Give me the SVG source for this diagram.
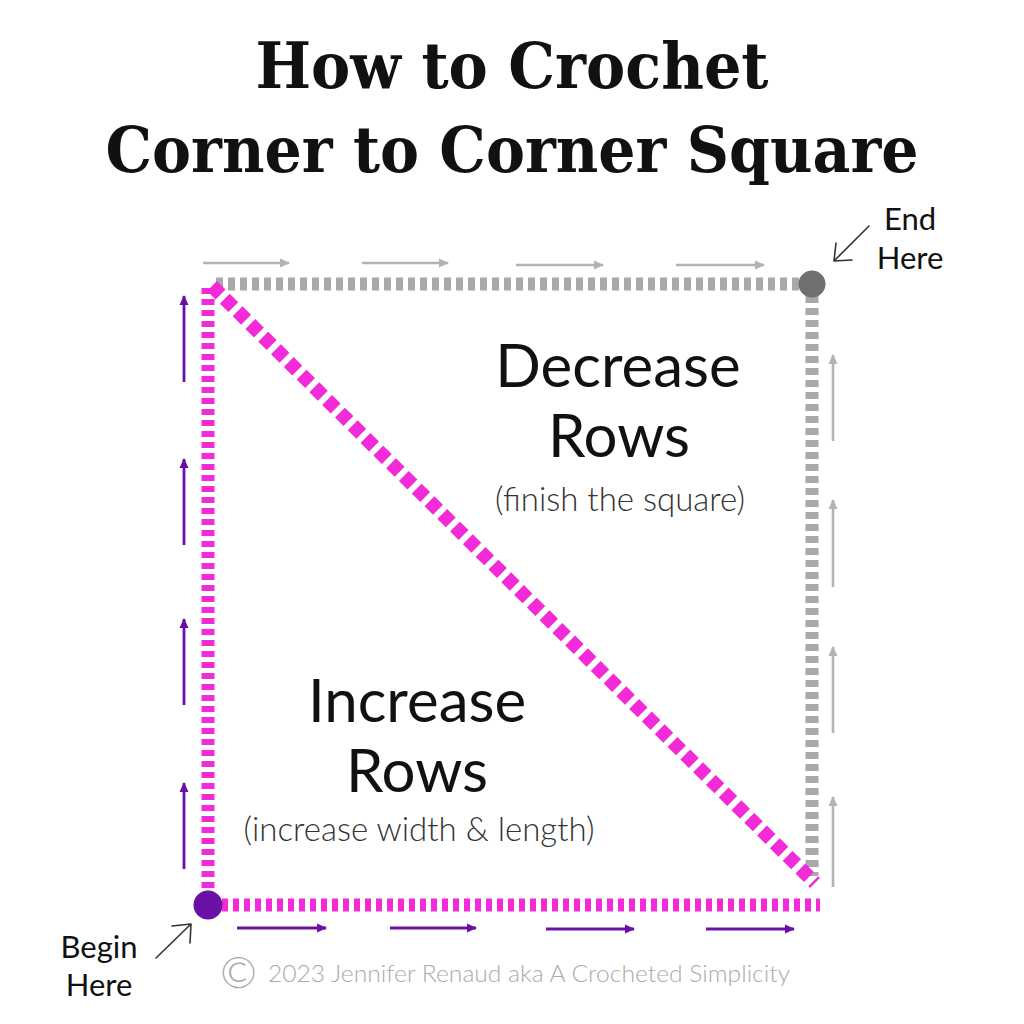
<svg xmlns="http://www.w3.org/2000/svg" width="1024" height="1024" viewBox="0 0 1024 1024">
<defs>
<style>
.title{font-family:"DejaVu Serif","Liberation Serif",serif;font-weight:bold;font-size:64px;fill:#111;text-anchor:middle}
.big{font-family:Lato,"Open Sans",sans-serif;font-size:60px;fill:#111;text-anchor:middle}
.sub{font-family:Lato,"Open Sans",sans-serif;font-weight:300;font-size:33px;fill:#333;text-anchor:middle}
.lbl{font-family:Lato,"Open Sans",sans-serif;font-size:31px;fill:#111;text-anchor:middle}
.copy{font-family:Lato,"Open Sans",sans-serif;font-weight:300;font-size:24px;fill:#aaa}
.pink{fill:none;stroke:#f22ad8;stroke-width:13;stroke-dasharray:6 5}
.gray{fill:none;stroke:#a9a9a9;stroke-width:13;stroke-dasharray:7 5}
.parr{stroke:#6a10a6;stroke-width:2.8;fill:none;marker-end:url(#ph)}
.garr{stroke:#b3b3b3;stroke-width:2.6;fill:none;marker-end:url(#gh)}
.ptr{stroke:#333;stroke-width:1.6;fill:none;stroke-linecap:round;stroke-linejoin:round}
</style>
<marker id="ph" markerUnits="userSpaceOnUse" markerWidth="12" markerHeight="12" viewBox="0 0 12 12" refX="10" refY="6" orient="auto">
<path d="M1,1.5 L11,6 L1,10.5 Z" fill="#6a10a6"/>
</marker>
<marker id="gh" markerUnits="userSpaceOnUse" markerWidth="12" markerHeight="12" viewBox="0 0 12 12" refX="10" refY="6" orient="auto">
<path d="M1,1.5 L11,6 L1,10.5 Z" fill="#b3b3b3"/>
</marker>
</defs>
<rect width="1024" height="1024" fill="#fff"/>
<g id="title">
<text class="title" x="512" y="88" textLength="513" lengthAdjust="spacingAndGlyphs">How to Crochet</text>
<text class="title" x="512" y="172" textLength="813" lengthAdjust="spacingAndGlyphs">Corner to Corner Square</text>
</g>
<g id="connectors">
<line class="gray" x1="216" y1="284" x2="800" y2="284"/>
<line class="gray" x1="812" y1="296" x2="812" y2="876"/>
<line class="pink" x1="208" y1="288" x2="208" y2="898"/>
<line class="pink" x1="222" y1="905" x2="820" y2="905"/>
<line class="pink" x1="212" y1="286" x2="815" y2="883" style="stroke-dasharray:12 6;stroke-width:14"/>
<g id="left-arrows">
<line class="parr" x1="184" y1="382" x2="184" y2="296"/>
<line class="parr" x1="184" y1="545" x2="184" y2="459"/>
<line class="parr" x1="184" y1="705" x2="184" y2="619"/>
<line class="parr" x1="184" y1="869" x2="184" y2="783"/>
</g>
<g id="bottom-arrows">
<line class="parr" x1="237" y1="928" x2="326" y2="928"/>
<line class="parr" x1="390" y1="928" x2="476" y2="928"/>
<line class="parr" x1="546" y1="929" x2="634" y2="929"/>
<line class="parr" x1="706" y1="929" x2="794" y2="929"/>
</g>
<g id="top-arrows">
<line class="garr" x1="203" y1="263" x2="289" y2="263"/>
<line class="garr" x1="362" y1="263" x2="448" y2="263"/>
<line class="garr" x1="516" y1="265" x2="603" y2="265"/>
<line class="garr" x1="676" y1="265" x2="764" y2="265"/>
</g>
<g id="right-arrows">
<line class="garr" x1="833" y1="441" x2="833" y2="355"/>
<line class="garr" x1="833" y1="587" x2="833" y2="500"/>
<line class="garr" x1="833" y1="733" x2="833" y2="647"/>
<line class="garr" x1="833" y1="887" x2="833" y2="797"/>
</g>
<g id="pointers">
<path class="ptr" d="M869,226 L834,261 M834,261 L836,243 M834,261 L852,260"/>
<path class="ptr" d="M156,958 L191,924 M191,924 L172,926 M191,924 L190,943"/>
</g>
</g>
<g id="begin">
<circle cx="208" cy="905" r="14.5" fill="#6a10a6"/>
<text class="lbl" x="99" y="958">Begin</text>
<text class="lbl" x="99" y="996">Here</text>
</g>
<g id="end">
<circle cx="812" cy="284" r="13.5" fill="#707070"/>
<text class="lbl" x="910" y="230">End</text>
<text class="lbl" x="910" y="269">Here</text>
</g>
<g id="decrease">
<text class="big" x="618" y="387">Decrease</text>
<text class="big" x="619" y="457">Rows</text>
<text class="sub" x="620" y="511">(finish the square)</text>
</g>
<g id="increase">
<text class="big" x="417" y="722">Increase</text>
<text class="big" x="417" y="792">Rows</text>
<text class="sub" x="419" y="841">(increase width &amp; length)</text>
</g>
<g id="copyright">
<text class="copy" x="220" y="988" style="font-size:44px">©</text>
<text class="copy" x="268" y="982" textLength="522" lengthAdjust="spacingAndGlyphs">2023 Jennifer Renaud aka A Crocheted Simplicity</text>
</g>
</svg>
